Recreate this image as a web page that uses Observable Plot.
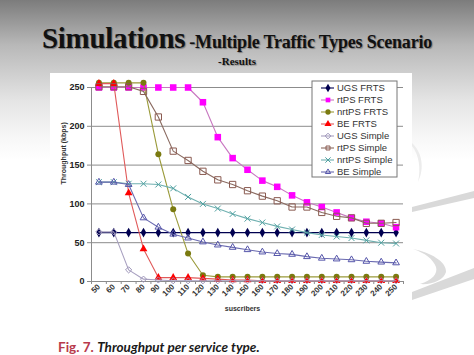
<!DOCTYPE html>
<html>
<head>
<meta charset="utf-8">
<script src="https://cdn.jsdelivr.net/npm/d3@7"></script>
<script src="https://cdn.jsdelivr.net/npm/@observablehq/plot@0.6"></script>
<style>
  html { margin: 0; padding: 0; background: #fff; overflow: hidden; }
  body { margin: 0; padding: 0; }
  #page {
    position: absolute; left: 0; top: 0; width: 474px; height: 355px; overflow: hidden;
    background: linear-gradient(to bottom, #7c7c7c 0px, #b8b8b8 45px, #e4e4e4 100px, #f6f6f6 135px, #ffffff 160px);
    font-family: "Liberation Sans", Arial, sans-serif;
  }
  #deco { position: absolute; left: 0; top: 0; }
  #title { position: absolute; left: 0; width: 474px; top: 23px; text-align: center; white-space: nowrap; line-height: 30px;
    font-family: "Liberation Serif", serif; color: #111; text-shadow: 1px 1px 1px rgba(0,0,0,0.35); }
  #title .big { font-size: 29px; font-weight: bold; letter-spacing: -0.3px; }
  #title .mid { font-size: 18px; font-weight: bold; letter-spacing: -0.2px; }
  #sub { position: absolute; left: 0; width: 474px; top: 54px; text-align: center; line-height: 14px;
    font-family: "Liberation Serif", serif; font-size: 11px; font-weight: bold; color: #111;
    text-shadow: 1px 1px 1px rgba(0,0,0,0.3); }
  #panel { position: absolute; left: 50px; top: 73px; width: 362px; height: 250px; background: #fff; }
  #chart { position: absolute; left: 50px; top: 73px; }
  #caption { position: absolute; left: 58px; top: 339px; line-height: 16px; font-family: Lato, "Open Sans", sans-serif; font-size: 13.5px; white-space: nowrap; }
  #caption .fig { color: #b83a4b; font-weight: bold; }
  #caption .txt { color: #1a1a1a; font-weight: bold; font-style: italic; }
</style>
</head>
<body>
<div id="page">
<svg id="deco" width="474" height="355">
  <path d="M412,207 L474,191 L474,198 L412,212 Z" fill="#d9d9d9"/>
  <path d="M412,292 L474,268 L474,279 L412,300 Z" fill="#d9d9d9"/>
  <path d="M413,249 C430,252 447,262 446,272 C444,280 432,285 420,284 C432,280 438,274 436,267 C433,259 425,253 413,249 Z" fill="#dcdcdc"/>
  <path d="M412,143 C422,152 425,168 418,182 C421,168 419,155 412,146 Z" fill="#ececec"/>
</svg>
<div id="title"><span class="big">Simulations</span> <span class="mid">-Multiple Traffic Types Scenario</span></div>
<div id="sub">-Results</div>
<div id="panel"></div>
<div id="chart"></div>
<div id="caption"><span class="fig">Fig. 7.</span> <span class="txt">Throughput per service type.</span></div>
</div>
<script>
// ---- data ----
const subscribers = [50, 60, 70, 80, 90, 100, 110, 120, 130, 140, 150, 160, 170, 180, 190, 200, 210, 220, 230, 240, 250];
const yTicks = [0, 50, 100, 150, 200, 250];
const seriesNames = ["UGS FRTS", "rtPS FRTS", "nrtPS FRTS", "BE FRTS", "UGS Simple", "rtPS Simple", "nrtPS Simple", "BE Simple"];
const ugsFrts    = [63, 63, 63, 63, 63, 63, 63, 63, 63, 63, 63, 63, 63, 63, 63, 63, 63, 63, 63, 63, 63];
const rtpsFrts   = [250, 250, 250, 250, 250, 250, 250, 231, 186, 159, 144, 130, 122, 111, 102, 96, 89, 82, 77, 75, 70];
const nrtpsFrts  = [256, 256, 256, 256, 164, 93, 36, 8, 6, 6, 6, 6, 6, 6, 6, 6, 6, 6, 6, 6, 6];
const beFrts     = [255, 255, 114, 42, 5, 5, 5, 4, 3, 2, 2, 1, 1, 1, 1, 1, 1, 1, 1, 1, 1];
const ugsSimple  = [64, 64, 15, 3, 2, 1, 1, 1, 1, 1, 1, 1, 1, 1, 1, 1, 1, 1, 1, 1, 1];
const rtpsSimple = [251, 251, 251, 245, 212, 168, 156, 142, 131, 125, 117, 110, 104, 96, 96, 89, 84, 82, 75, 75, 76];
const nrtpsSimple= [128, 128, 126, 126, 125, 120, 109, 100, 94, 87, 81, 76, 71, 67, 63, 60, 58, 56, 53, 50, 49];
const beSimple   = [128, 128, 125, 82, 70, 61, 56, 51, 47, 44, 41, 38, 36, 35, 32, 30, 29, 28, 26, 25, 24];

const seriesValues = [ugsFrts, rtpsFrts, nrtpsFrts, beFrts, ugsSimple, rtpsSimple, nrtpsSimple, beSimple];
const lineColors   = ["#000050", "#c878c0", "#9a9a3a", "#e05a5a", "#a8a0c0", "#8a6a60", "#6fb0b0", "#6a6ab0"];
const markColors   = ["#000050", "#ff00ff", "#7a7a10", "#ff0000", "#9c94b8", "#8a5a50", "#4fa0a0", "#5555aa"];
const symbols      = ["diamond", "square", "circle", "triangle", "diamond2", "square2", "times", "triangle2"];
const filled       = [true, true, true, true, false, false, false, false];
const sizes        = [2.9, 3.7, 3.0, 2.9, 2.8, 4.0, 2.8, 3.2];

const rows = [];
seriesNames.forEach((name, si) => {
  seriesValues[si].forEach((v, i) => rows.push({series: name, si, x: subscribers[i], y: v}));
});
const bounds = d3.range(45, 256, 10);

const font = "Liberation Sans, Arial, sans-serif";
const marks = [
  Plot.ruleY(yTicks.filter(d => d > 0), {stroke: "#8c8c8c", strokeWidth: 1}),
  Plot.ruleY([0], {stroke: "#8c8c8c", strokeWidth: 1}),
  Plot.ruleX([45], {stroke: "#8c8c8c", strokeWidth: 1}),
  Plot.axisY({ticks: yTicks, tickSize: 4, tickPadding: 3, fontSize: 9, fontWeight: "bold", stroke: "#8c8c8c", label: null, fill: "#222"}),
  Plot.axisX({ticks: bounds, tickSize: 3, tickFormat: () => "", stroke: "#8c8c8c", label: null}),
  Plot.axisX({ticks: subscribers, tickSize: 0, tickPadding: 4, tickRotate: -45, fontSize: 8, fontWeight: "bold", label: null, fill: "#333"}),
  Plot.text(["Throughput (kbps)"], {frameAnchor: "left", rotate: -90, dx: -28, fontSize: 7, fontWeight: "bold", fill: "#333"}),
  Plot.text(["suscribers"], {frameAnchor: "bottom", dy: 29, dx: -5, fontSize: 7, fontWeight: "bold", fill: "#333"})
];
seriesNames.forEach((name, si) => {
  const d = rows.filter(r => r.si === si);
  marks.push(Plot.line(d, {x: "x", y: "y", stroke: lineColors[si], strokeWidth: 1.1}));
  marks.push(Plot.dot(d, {
    x: "x", y: "y", symbol: () => symbols[si], r: sizes[si],
    fill: filled[si] ? markColors[si] : "none",
    stroke: filled[si] ? "none" : markColors[si], strokeWidth: 1
  }));
});

const chart = Plot.plot({
  width: 362, height: 250,
  marginLeft: 41, marginRight: 9, marginTop: 14, marginBottom: 42,
  style: {fontFamily: font, background: "transparent", overflow: "visible"},
  x: {type: "linear", domain: [45, 255]},
  y: {domain: [0, 250]},
  symbol: {type: "identity"},
  marks
});
document.getElementById("chart").appendChild(chart);

// ---- legend (drawn inside the chart's svg) ----
const svg = d3.select(chart);
const lg = svg.append("g").attr("transform", "translate(262,8)").attr("text-anchor", "start");
lg.append("rect").attr("x", 0).attr("y", 0).attr("width", 85).attr("height", 96)
  .attr("fill", "#fff").attr("stroke", "#777").attr("stroke-width", 1);
const symMap = {diamond: d3.symbolDiamond, square: d3.symbolSquare, circle: d3.symbolCircle, triangle: d3.symbolTriangle,
  diamond2: d3.symbolDiamond2, square2: d3.symbolSquare2, times: d3.symbolTimes, triangle2: d3.symbolTriangle2};
seriesNames.forEach((name, i) => {
  const cy = 7 + i * 12;
  const g = lg.append("g").attr("transform", `translate(0,${cy})`);
  g.append("line").attr("x1", 9).attr("x2", 22).attr("y1", 0).attr("y2", 0).attr("stroke", lineColors[i]).attr("stroke-width", 1.1);
  const s = d3.symbol().type(symMap[symbols[i]]).size(filled[i] ? 22 : 20)();
  g.append("path").attr("d", s).attr("transform", "translate(16,0)")
    .attr("fill", filled[i] ? markColors[i] : "none").attr("stroke", filled[i] ? "none" : markColors[i]).attr("stroke-width", 1);
  g.append("text").attr("x", 25).attr("y", 0).attr("dy", "0.35em").attr("font-size", 9.5)
    .attr("font-family", font).attr("fill", "#333").text(name);
});
</script>
</body>
</html>
